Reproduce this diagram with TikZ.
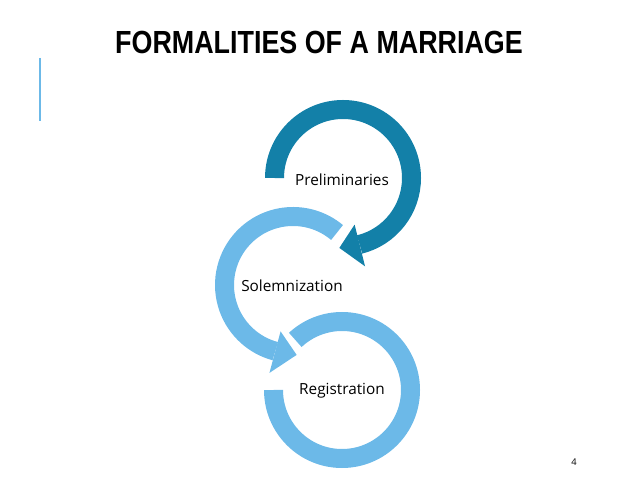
\documentclass[tikz,border=0pt]{standalone}
\usepackage{fontspec}
\setmainfont{Open Sans}
\newfontfamily\titlefont{Liberation Sans}
\definecolor{dark}{HTML}{1380A8}
\definecolor{light}{HTML}{6CB9E8}
\begin{document}
\begin{tikzpicture}[x=0.75pt,y=0.75pt,
  ring/.style={line width=14.25pt},
  lbl/.style={font=\fontsize{11.5}{13}\selectfont, text=black}]
\useasboundingbox (0,0) rectangle (638,478);
\node[font=\titlefont\bfseries\fontsize{24}{26}\selectfont, xscale=0.84] (title) at (319,436) {FORMALITIES OF A MARRIAGE};
\draw[light, line width=1.5pt] (40,420) coordinate (v1) -- (40,357) coordinate (v2);
% top ring
\coordinate (c1) at (343,300);
\draw[ring, dark] ([shift={(180:68.5)}]c1) arc[start angle=180, end angle=-76, radius=68.5];
\fill[dark] ([shift={(-76:48)}]c1) -- ([shift={(-76:91)}]c1) -- ([shift={(-93:70)}]c1) -- cycle;
% middle ring
\coordinate (c2) at (293,193);
\draw[ring, light] ([shift={(50:68.5)}]c2) arc[start angle=50, end angle=255, radius=68.5];
\fill[light] ([shift={(255:48)}]c2) -- ([shift={(255:91)}]c2) -- ([shift={(273:70)}]c2) -- cycle;
% bottom ring
\coordinate (c3) at (342,88);
\draw[ring, light] ([shift={(180:68.5)}]c3) arc[start angle=180, end angle=493, radius=68.5];
\node[lbl] (p) at (342,298) {Preliminaries};
\node[lbl] (s) at (292,192) {Solemnization};
\node[lbl] (r) at (342,87) {Registration};
\node[font=\fontsize{7}{8}\selectfont] (n) at (574,16) {4};
\end{tikzpicture}
\end{document}
